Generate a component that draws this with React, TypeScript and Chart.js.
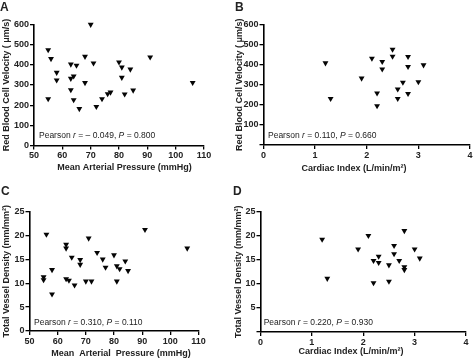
import React, { useEffect, useRef } from "react";
import { Chart, registerables } from "chart.js";
Chart.register(...registerables);

// ---- Data ----
// Panel A: Mean arterial pressure vs red blood cell velocity
const mapA = [55, 56, 58, 58, 55, 63, 65, 63, 64, 63, 64, 66, 68, 68, 70, 71, 72, 74, 76, 77, 80, 81, 81, 82, 84, 85, 91, 106];
const rbcA = [474, 430, 362, 324, 231, 403, 397, 332, 344, 276, 226, 182, 441, 311, 600, 408, 193, 231, 256, 264, 413, 388, 337, 255, 378, 274, 438, 312];
// Panel B: Cardiac index vs red blood cell velocity
const ciB = [1.2, 1.3, 1.9, 2.1, 2.3, 2.3, 2.2, 2.2, 2.5, 2.5, 2.8, 2.8, 2.7, 2.6, 2.6, 2.8, 3.0, 3.1];
const rbcB = [408, 231, 332, 431, 415, 378, 258, 195, 476, 441, 440, 390, 312, 278, 231, 256, 314, 398];
// Panel C: Mean arterial pressure vs total vessel density
const mapC = [55, 55, 56, 58, 58, 63, 63, 63, 64, 65, 66, 68, 68, 70, 71, 72, 74, 76, 77, 80, 81, 81, 82, 84, 85, 91, 106];
const tvdC = [11.3, 10.7, 20.2, 12.8, 7.7, 18.1, 17.3, 10.9, 10.6, 15.4, 9.6, 14.9, 13.9, 10.4, 19.4, 10.4, 16.4, 15.0, 13.3, 15.9, 13.6, 10.4, 13.0, 14.6, 12.6, 21.2, 17.3];
// Panel D: Cardiac index vs total vessel density
const ciD = [1.2, 1.3, 1.9, 2.1, 2.3, 2.3, 2.2, 2.2, 2.5, 2.5, 2.6, 2.6, 2.7, 2.8, 2.8, 2.8, 3.0, 3.1];
const tvdD = [19.2, 11.1, 17.2, 20.0, 15.7, 14.4, 14.8, 10.2, 13.9, 10.5, 17.9, 16.2, 14.8, 21.0, 13.5, 12.9, 17.2, 15.3];

const mapTicks = [50, 60, 70, 80, 90, 100, 110];
const ciTicks = [0, 1, 2, 3, 4];
const rbcTicks = [0, 100, 200, 300, 400, 500, 600];
const tvdTicks = [0, 5, 10, 15, 20, 25];

const letters = ["A", "B", "C", "D"];
const yTitles = ["Red Blood Cell Velocity ( \u03bcm/s)", "Red Blood Cell Velocity ( \u03bcm/s)", "Total Vessel Density (mm/mm\u00b2)", "Total Vessel Density (mm/mm\u00b2)"];
const xTitles = ["Mean Arterial Pressure (mmHg)", "Cardiac Index (L/min/m\u00b2)", "Mean  Arterial  Pressure (mmHg)", "Cardiac Index (L/min/m\u00b2)"];
const pearsonR = ["\u2013 0.049", "0.110", "0.310", "0.220"];
const pearsonP = ["0.800", "0.660", "0.110", "0.930"];

const FONT = '"Liberation Sans", Arial, Helvetica, sans-serif';
const TEXT = "#222222";

type PanelDef = {
  idx: number;
  left: number; top: number; width: number; height: number;
  area: { l: number; r: number; t: number; b: number };
  xs: number[]; ys: number[];
  xTicks: number[]; yTicks: number[];
  hideY0: boolean;
  letterPos: [number, number];
  yTitleX: number;
  xTitlePos: [number, number];
  pearsonPos: [number, number];
};

const panels: PanelDef[] = [
  { idx: 0, left: 0, top: 0, width: 232, height: 182, area: { l: 34, r: 204, t: 24.5, b: 145.5 }, xs: mapA, ys: rbcA, xTicks: mapTicks, yTicks: rbcTicks, hideY0: false, letterPos: [0, 8], yTitleX: 6.5, xTitlePos: [124.5, 168], pearsonPos: [39, 136] },
  { idx: 1, left: 232, top: 0, width: 242, height: 182, area: { l: 263.5, r: 471, t: 24.5, b: 145 }, xs: ciB, ys: rbcB, xTicks: ciTicks, yTicks: rbcTicks, hideY0: true, letterPos: [235, 8], yTitleX: 240, xTitlePos: [354, 169], pearsonPos: [268, 136] },
  { idx: 2, left: 0, top: 182, width: 232, height: 182, area: { l: 29.5, r: 198.5, t: 211.5, b: 331 }, xs: mapC, ys: tvdC, xTicks: mapTicks, yTicks: tvdTicks, hideY0: false, letterPos: [1, 192], yTitleX: 6.5, xTitlePos: [121, 354], pearsonPos: [34, 323] },
  { idx: 3, left: 232, top: 182, width: 242, height: 182, area: { l: 260.5, r: 466, t: 211.5, b: 332 }, xs: ciD, ys: tvdD, xTicks: ciTicks, yTicks: tvdTicks, hideY0: true, letterPos: [233, 192], yTitleX: 239, xTitlePos: [351, 352], pearsonPos: [263.7, 323] },
];

function PanelChart({ p }: { p: PanelDef }) {
  const ref = useRef<HTMLCanvasElement | null>(null);
  useEffect(() => {
    if (!ref.current) return;
    const ox = p.left, oy = p.top;
    const textPlugin = {
      id: "panelTexts",
      afterDraw(chart: any) {
        const ctx = chart.ctx as CanvasRenderingContext2D;
        ctx.save();
        ctx.fillStyle = TEXT;
        ctx.textBaseline = "middle";
        // panel letter
        ctx.font = `bold 12px ${FONT}`;
        ctx.textAlign = "left";
        ctx.fillText(letters[p.idx], p.letterPos[0] - ox, p.letterPos[1] - oy);
        // x title
        ctx.font = `bold 9px ${FONT}`;
        ctx.textAlign = "center";
        ctx.fillText(xTitles[p.idx], p.xTitlePos[0] - ox, p.xTitlePos[1] - oy);
        // pearson text
        ctx.textAlign = "left";
        let x = p.pearsonPos[0] - ox;
        const y = p.pearsonPos[1] - oy;
        const parts: [string, boolean][] = [
          ["Pearson ", false], ["r", true], [" = " + pearsonR[p.idx] + ", ", false], ["P", true], [" = " + pearsonP[p.idx], false],
        ];
        for (const [s, it] of parts) {
          ctx.font = `${it ? "italic " : ""}8.5px ${FONT}`;
          ctx.fillText(s, x, y);
          x += ctx.measureText(s).width;
        }
        // y title
        const ca = chart.chartArea;
        ctx.translate(p.yTitleX - ox, (ca.top + ca.bottom) / 2);
        ctx.rotate(-Math.PI / 2);
        ctx.font = `bold 9px ${FONT}`;
        ctx.textAlign = "center";
        ctx.fillText(yTitles[p.idx], 0, 0);
        ctx.restore();
      },
    };
    const points = p.xs.map((x, i) => ({ x, y: p.ys[i] }));
    const tickFont = { family: FONT, size: 9, weight: "bold" as const };
    const xs = p.xTicks, ys = p.yTicks;
    const chart = new Chart(ref.current, {
      type: "scatter",
      data: {
        datasets: [
          {
            data: points,
            pointStyle: "triangle",
            pointRotation: 180,
            pointRadius: 3.4,
            pointBackgroundColor: "#050505",
            pointBorderColor: "#050505",
            pointBorderWidth: 0,
            clip: false as any,
          } as any,
        ],
      },
      options: {
        responsive: false,
        animation: false,
        devicePixelRatio: 1,
        layout: {
          padding: { left: 0, top: p.area.t - oy, right: ox + p.width - p.area.r, bottom: 0 },
        },
        plugins: { legend: { display: false }, tooltip: { enabled: false } },
        scales: {
          x: {
            type: "linear",
            min: xs[0],
            max: xs[xs.length - 1],
            afterBuildTicks: (s: any) => { s.ticks = xs.map((v) => ({ value: v })); },
            ticks: { font: tickFont, color: TEXT, padding: 1, maxRotation: 0, autoSkip: false, callback: (v: any) => String(v) },
            grid: { drawOnChartArea: false, drawTicks: true, tickLength: 4, color: "#000", lineWidth: 1.3 },
            border: { display: true, color: "#000", width: 1.6 },
            afterFit: (s: any) => { s.height = oy + p.height - p.area.b; },
          },
          y: {
            type: "linear",
            min: ys[0],
            max: ys[ys.length - 1],
            afterBuildTicks: (s: any) => { s.ticks = ys.map((v) => ({ value: v })); },
            ticks: { font: tickFont, color: TEXT, padding: 1, autoSkip: false, callback: (v: any) => (p.hideY0 && v === 0 ? "" : String(v)) },
            grid: { drawOnChartArea: false, drawTicks: true, tickLength: 4, color: "#000", lineWidth: 1.3 },
            border: { display: true, color: "#000", width: 1.6 },
            afterFit: (s: any) => { s.width = p.area.l - ox; },
          },
        },
      } as any,
      plugins: [textPlugin],
    });
    return () => chart.destroy();
  }, [p]);
  return (
    <canvas
      ref={ref}
      width={p.width}
      height={p.height}
      style={{ position: "absolute", left: p.left, top: p.top, width: p.width, height: p.height }}
    />
  );
}

export default function App() {
  return (
    <div style={{ position: "absolute", left: 0, top: 0, width: 474, height: 364, background: "#fff", overflow: "hidden" }}>
      {panels.map((p) => (
        <PanelChart key={p.idx} p={p} />
      ))}
    </div>
  );
}
